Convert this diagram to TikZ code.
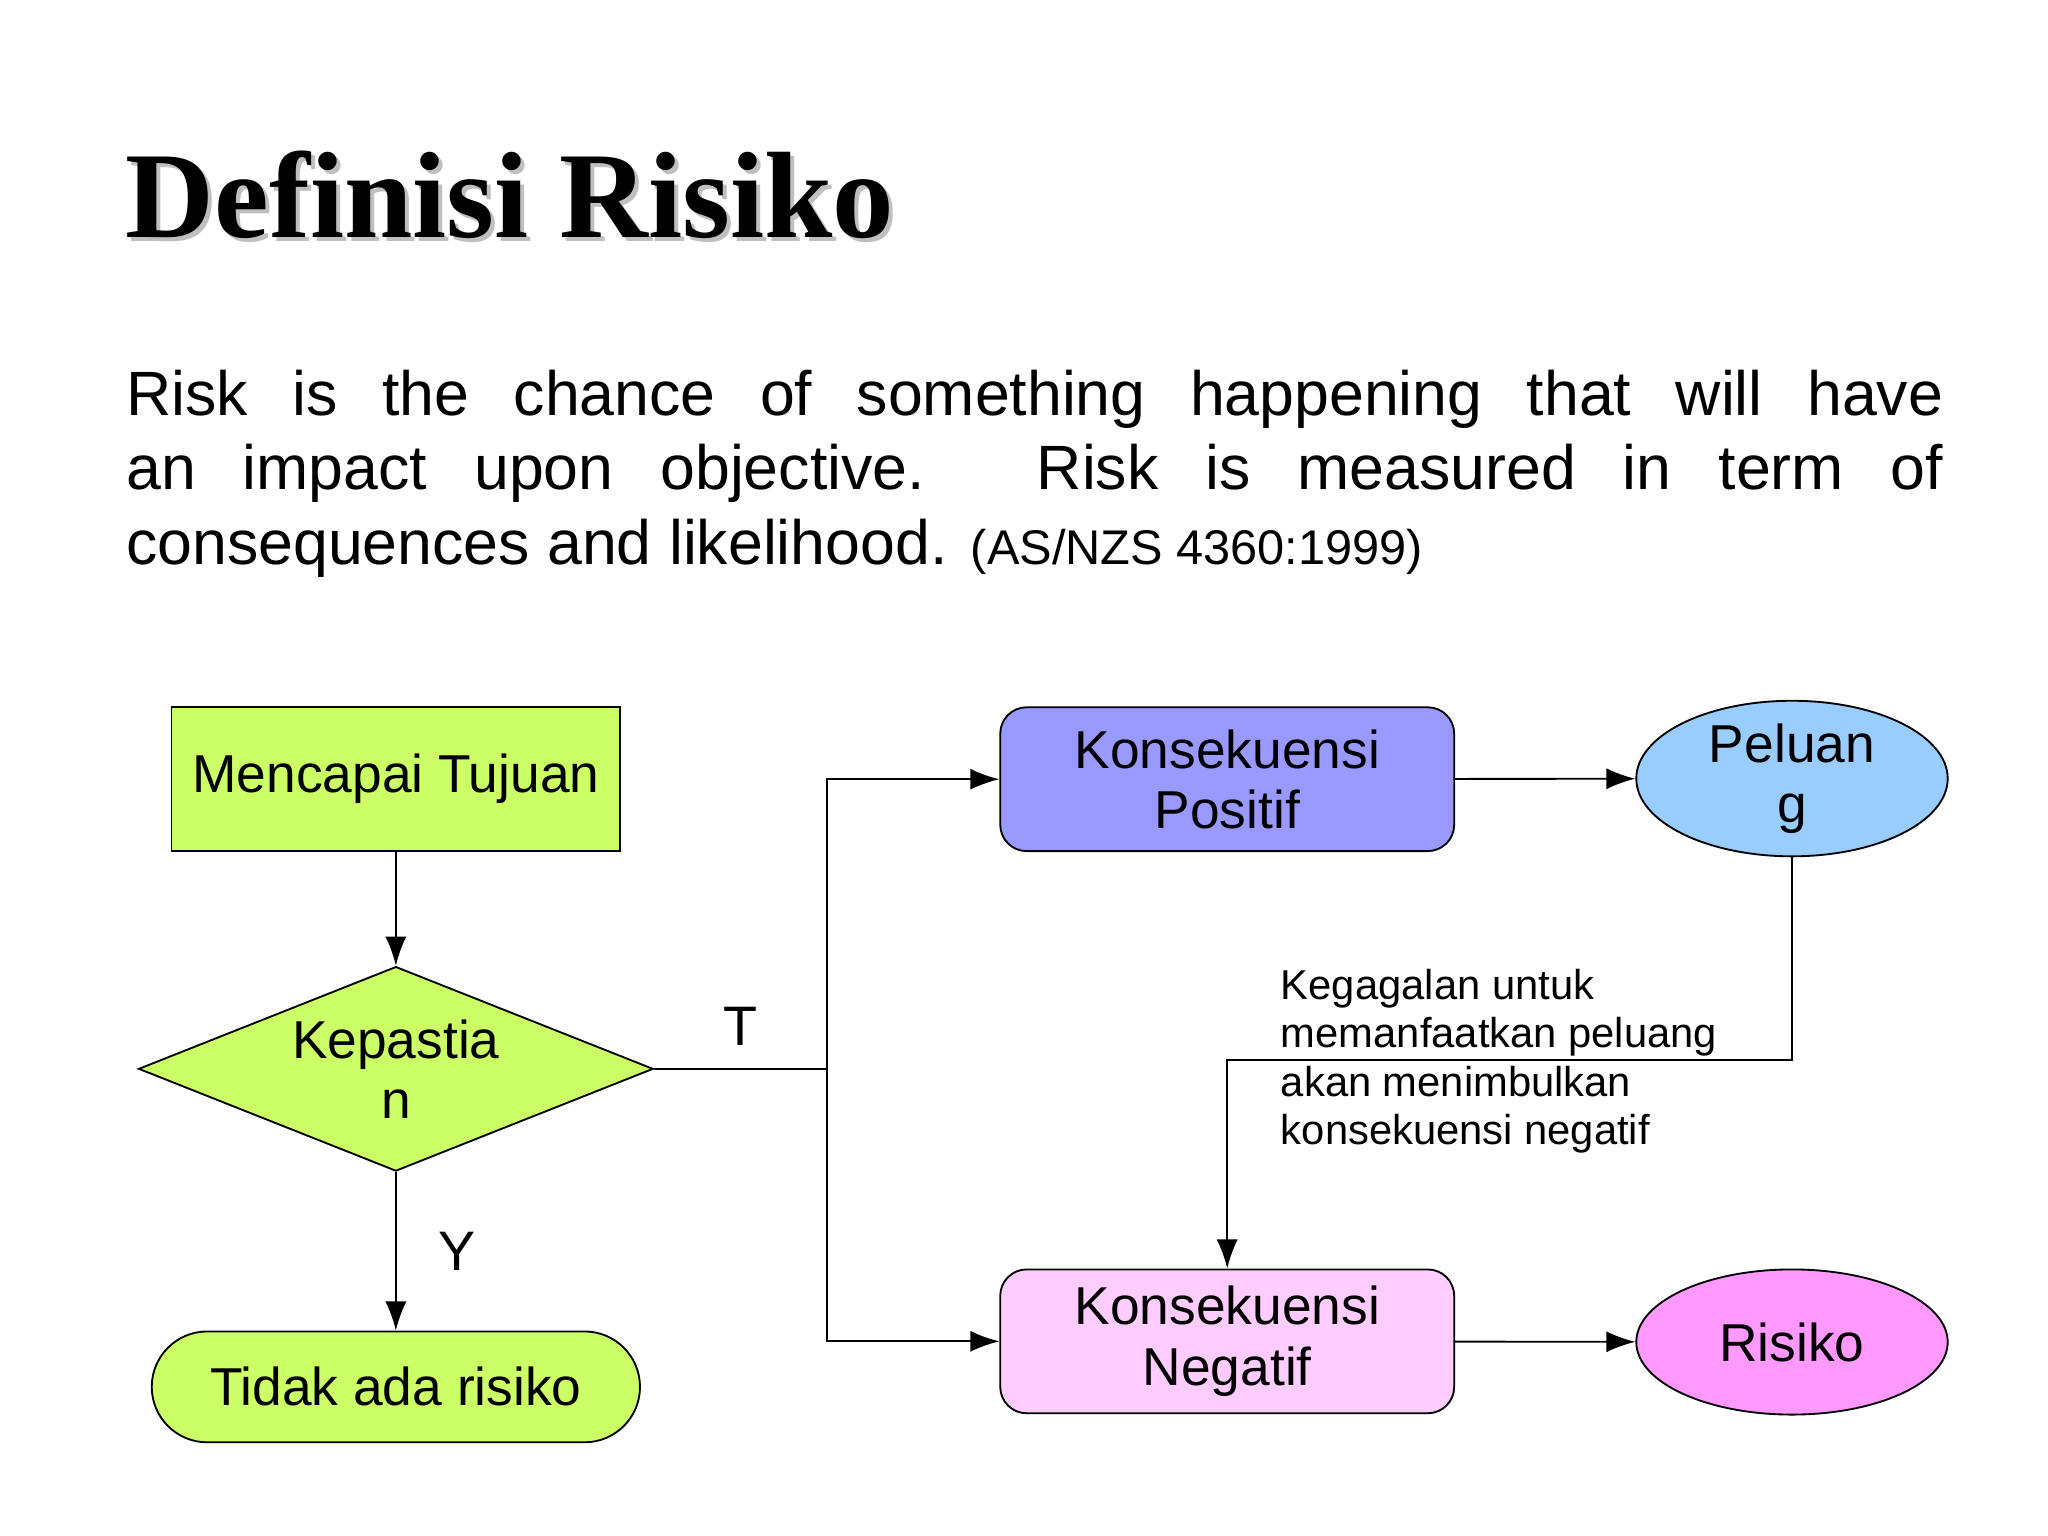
\documentclass[tikz,border=0pt]{standalone}
\usepackage{fontspec}
\setmainfont{Liberation Sans}
\newfontfamily\titlefont{Liberation Serif}
\usetikzlibrary{arrows.meta,calc,shapes.geometric,shadows}
\definecolor{limeg}{HTML}{CCFF66}
\definecolor{violetb}{HTML}{9999FF}
\definecolor{skyb}{HTML}{99CCFF}
\definecolor{pinkl}{HTML}{FFCCFF}
\definecolor{pinkm}{HTML}{FF99FF}
\tikzset{
  box/.style={draw,minimum width=3.4cm,minimum height=1.09cm,inner sep=1pt,align=center,font=\fontsize{11.5}{13}\selectfont},
  oval/.style={draw,ellipse,inner sep=0pt,minimum width=2.36cm,minimum height=1.1cm,align=center,font=\fontsize{11.5}{13}\selectfont},
  link/.style={-{Latex[length=2.2mm,width=1.6mm]}}
}
\begin{document}
\begin{tikzpicture}[x=1cm,y=-1cm]
            \useasboundingbox (0,0) rectangle (15.52,11.64);
            \node[anchor=base west,font=\titlefont\bfseries\fontsize{26.5}{28}\selectfont,text=gray!50] at (0.86,1.83) {Definisi Risiko};
            \node[anchor=base west,font=\titlefont\bfseries\fontsize{26.5}{28}\selectfont] (title) at (0.83,1.80) {Definisi Risiko};
            \node[anchor=north west,inner sep=0pt,text width=13.77cm,align=justify,font=\fontsize{13.5}{16}\selectfont] (para) at (0.95,2.80)
              {\hyphenpenalty=10000 Risk is the chance of something happening that will have\linebreak an impact upon objective. Risk is measured in term of\linebreak consequences and likelihood. {\fontsize{10.5}{12}\selectfont(AS/NZS 4360:1999)}};
            \node[box,fill=limeg] (tujuan) at (3.00,5.905) {Mencapai Tujuan};
            \node[draw,diamond,aspect=2.52,inner sep=0pt,minimum width=3.9cm,minimum height=1.55cm,fill=limeg,align=center,font=\fontsize{11.5}{13}\selectfont] (kepastian) at (3.00,8.10) {Kepastia\\n};
            \node[draw,rounded corners=0.42cm,minimum width=3.7cm,minimum height=0.84cm,fill=limeg,font=\fontsize{11.5}{13}\selectfont] (tidak) at (3.00,10.51) {Tidak ada risiko};
            \node[box,rounded corners=0.2cm,minimum width=3.44cm,fill=violetb] (positif) at (9.30,5.905) {Konsekuensi\\Positif};
            \node[box,rounded corners=0.2cm,minimum width=3.44cm,fill=pinkl] (negatif) at (9.30,10.165) {Konsekuensi\\Negatif};
            \node[oval,fill=skyb] (peluang) at (13.58,5.90) {Peluan\\g};
            \node[oval,fill=pinkm] (risiko) at (13.58,10.17) {Risiko};
            \coordinate (split) at (6.27,8.10);
            \coordinate (bend) at (13.58,8.03);
            \draw[link] (tujuan) -- (kepastian);
            \draw[link] (kepastian) -- (tidak) node[pos=0.5,right=0.2cm,font=\fontsize{12}{14}\selectfont] {Y};
            \draw (kepastian) -- (split) node[pos=0.5,above=0.05cm,font=\fontsize{12}{14}\selectfont] {T};
            \draw[link] (split) |- (positif);
            \draw[link] (split) |- (negatif);
            \draw[link] (positif) -- (peluang);
            \draw[link] (negatif) -- (risiko);
            \draw[link] (peluang.south) -- (bend) -| (negatif.north);
            \node[anchor=north west,align=left,inner sep=0pt,font=\fontsize{9}{10.4}\selectfont] (catatan) at (9.70,7.34)
              {Kegagalan untuk\\memanfaatkan peluang\\akan menimbulkan\\konsekuensi negatif};
          \end{tikzpicture}
\end{document}
